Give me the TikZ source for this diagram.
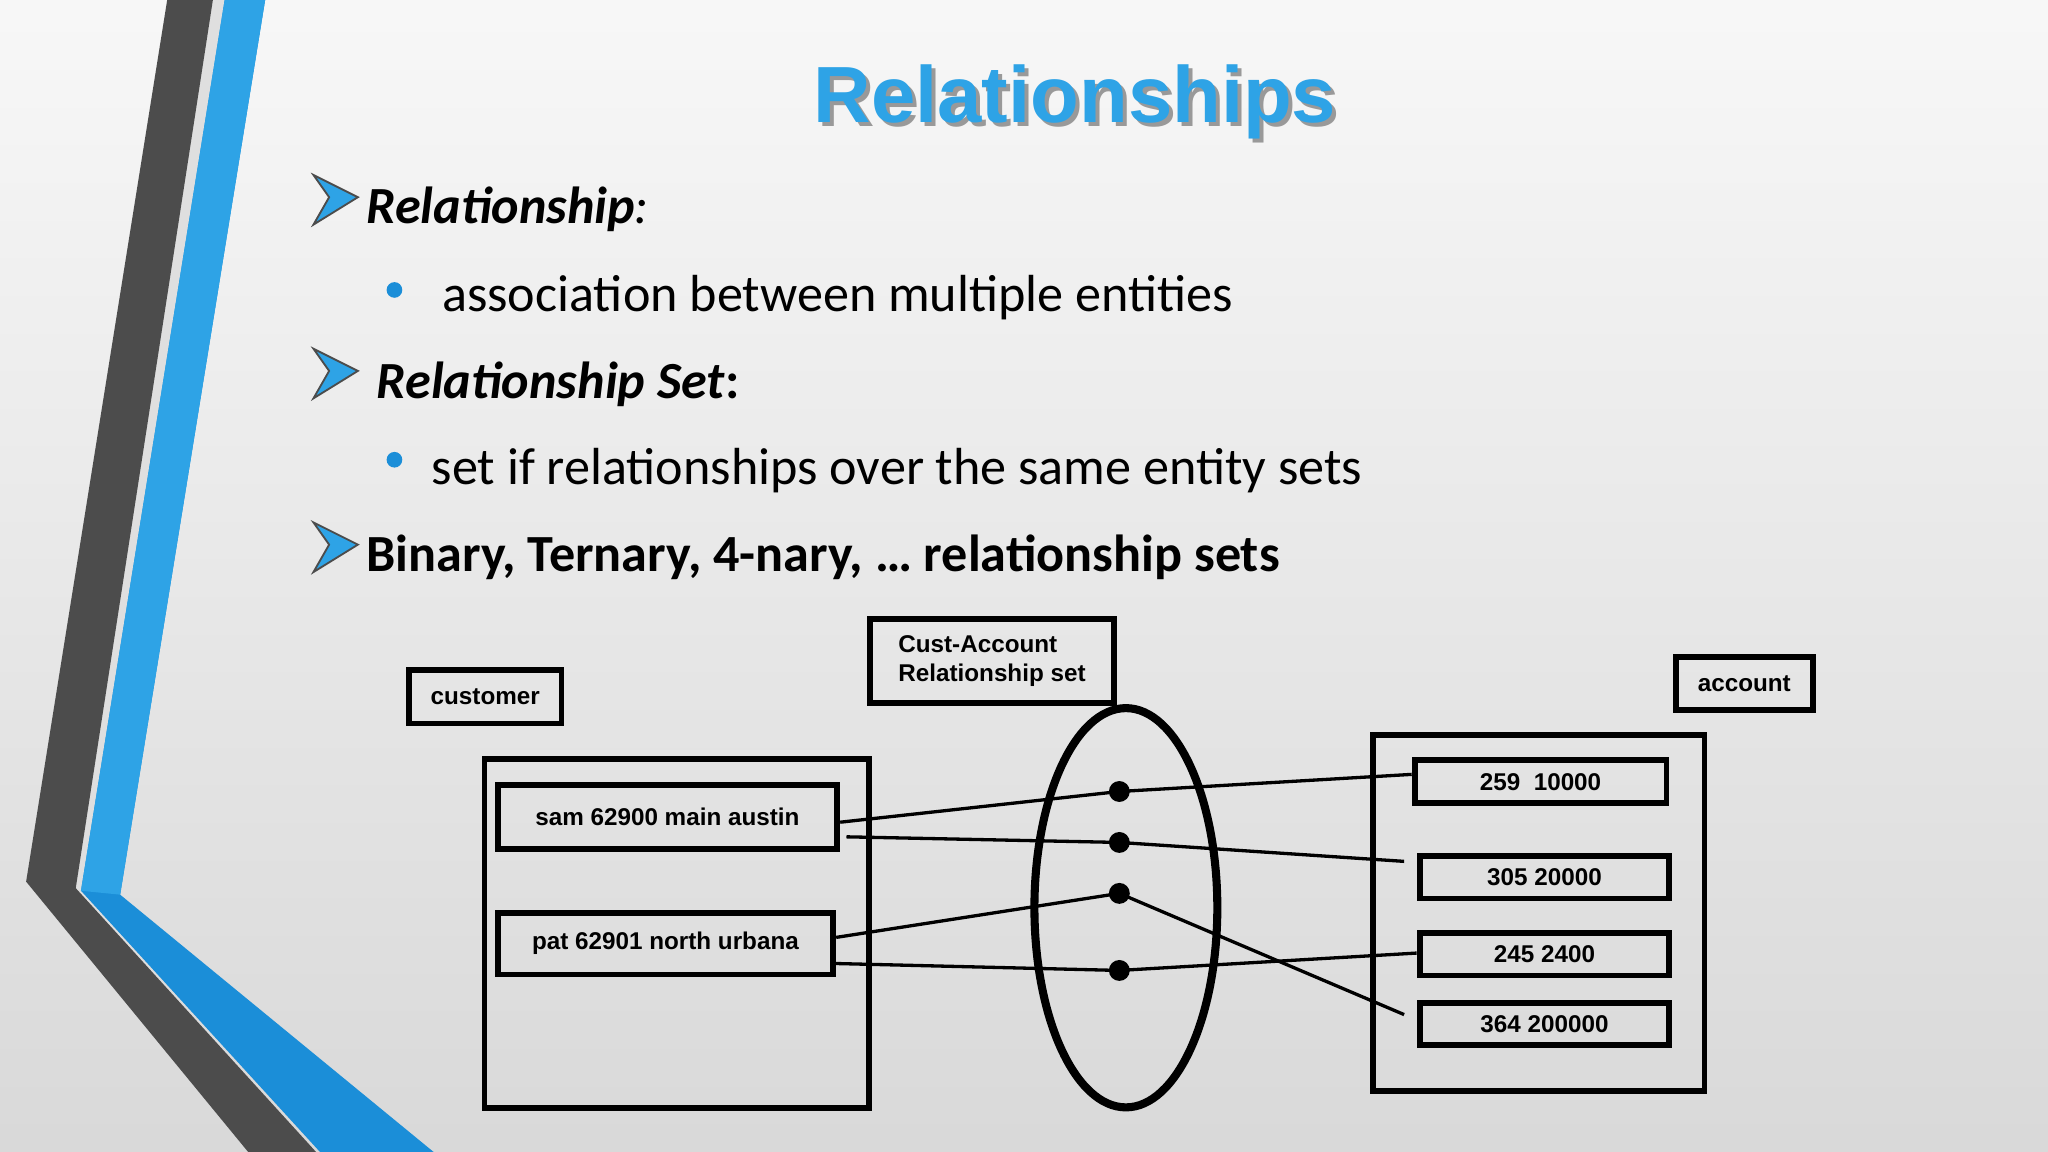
\documentclass[tikz,border=0pt]{standalone}
\usepackage{fontspec}
\setmainfont{Carlito}
\newfontfamily\arialf{Liberation Sans}
\usetikzlibrary{shapes.geometric}
\definecolor{tblue}{HTML}{2EA3E6}
\definecolor{bblue}{HTML}{1B8ED8}
\begin{document}
\begin{tikzpicture}[x=0.0125cm,y=-0.0125cm,
  box/.style={draw=black,line width=1.6pt,inner sep=0pt,font=\arialf\bfseries\fontsize{6.6}{8}\selectfont},
  dot/.style={circle,fill=black,minimum size=0.2cm,inner sep=0pt},
  bul/.style={anchor=west,inner sep=0pt,font=\fontsize{14.2}{17}\selectfont},
  conn/.style={line width=0.9pt}]
\useasboundingbox (0,0) rectangle (1568,882);
\shade[top color=gray!6,bottom color=gray!30] (0,0) rectangle (1568,882);
% left stripes
\fill[gray!25!white] (163,0) -- (172,0) -- (62,682) -- (55,682) -- cycle;
\fill[black!70] (128,0) -- (163,0) -- (58,680) -- (242,882) -- (190,882) -- (20,675) -- cycle;
\fill[bblue] (172,0) -- (203,0) -- (92,685) -- (332,882) -- (245,882) -- (62,682) -- cycle;
\fill[tblue] (172,0) -- (203,0) -- (92,685) -- (62,682) -- cycle;
% title
\node[font=\arialf\bfseries\fontsize{21.7}{26}\selectfont,text=black!40] (tsh) at (826,81) {Relationships};
\node[font=\arialf\bfseries\fontsize{21.7}{26}\selectfont,text=tblue] (title) at (823,78) {Relationships};
% arrow bullets
\foreach \yy/\nm in {154/a1,287/a2,420/a3}{
  \fill[tblue,draw=black!70,line width=0.5pt] (240,\yy-20) -- (274,\yy-3) -- (240,\yy+18) -- (252,\yy-3) -- cycle;
}
\node[bul] (r1) at (280,160) {\textbf{\textit{Relationship}}\textit{:}};
\fill[bblue] (302,222) circle (6);
\node[bul] (r2) at (338,228) {association between multiple entities};
\node[bul] (r3) at (288,294) {\textbf{\textit{Relationship Set}}\textbf{:}};
\fill[bblue] (302,352) circle (6);
\node[bul] (r4) at (330,360) {set if relationships over the same entity sets};
\node[bul] (r5) at (280,427) {\textbf{Binary, Ternary, 4-nary, … relationship sets}};
% diagram
\node[box,minimum width=1.46cm,minimum height=0.51cm] (cust) at (371.5,533.5) {customer};
\node[box,minimum width=2.34cm,minimum height=0.8cm,align=left] (ca) at (759.5,506) {Cust-Account\\ Relationship set};
\node[box,minimum width=1.31cm,minimum height=0.51cm] (acc) at (1335.5,523.5) {account};
\node[box,minimum width=3.675cm,minimum height=3.34cm] (cbig) at (518,714.5) {};
\node[box,minimum width=3.25cm,minimum height=0.61cm] (sam) at (511,625.5) {sam 62900 main austin};
\node[box,minimum width=3.21cm,minimum height=0.59cm] (pat) at (509.5,722.5) {pat 62901 north urbana};
\node[draw=black,line width=2.2pt,ellipse,minimum width=1.75cm,minimum height=3.82cm] (ell) at (862,695) {};
\node[box,minimum width=3.175cm,minimum height=3.4cm] (abig) at (1178,699) {};
\node[box,minimum width=2.41cm,minimum height=0.41cm] (b1) at (1179.5,598.5) {259~ 10000};
\node[box,minimum width=2.39cm,minimum height=0.41cm] (b2) at (1182.5,671.5) {305 20000};
\node[box,minimum width=2.39cm,minimum height=0.41cm] (b3) at (1182.5,730.5) {245 2400};
\node[box,minimum width=2.39cm,minimum height=0.41cm] (b4) at (1182.5,784) {364 200000};
\node[dot] (d1) at (857,606) {};
\node[dot] (d2) at (857,645) {};
\node[dot] (d3) at (857,684) {};
\node[dot] (d4) at (857,743) {};
\draw[conn] ([yshift=-0.05cm]sam.east) -- (d1.center) -- ([yshift=0.07cm]b1.west);
\draw[conn] ([yshift=-0.19cm,xshift=0.06cm]sam.east) -- (d2.center) -- ([yshift=0.15cm,xshift=-0.12cm]b2.west);
\draw[conn] ([yshift=0.06cm]pat.east) -- (d3.center) -- ([yshift=0.09cm,xshift=-0.12cm]b4.west);
\draw[conn] ([yshift=-0.19cm]pat.east) -- (d4.center) -- ([yshift=0.01cm]b3.west);
\end{tikzpicture}
\end{document}
